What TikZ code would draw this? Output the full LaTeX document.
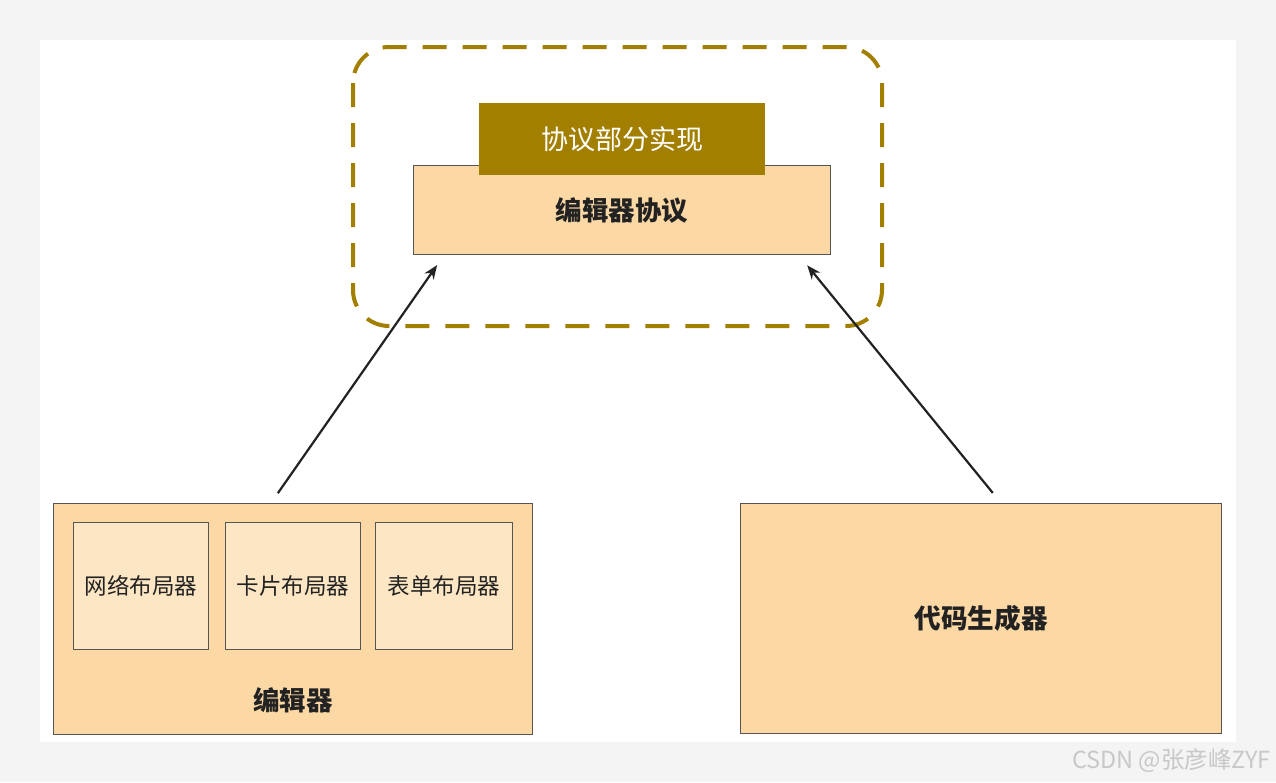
\documentclass[tikz,border=0pt]{standalone}
\usepackage{fontspec}
\newfontfamily\cjk{Noto Sans CJK SC}
\usetikzlibrary{calc,arrows.meta}
\definecolor{bggray}{HTML}{F4F4F4}
\definecolor{gold}{HTML}{A37F00}
\definecolor{peach}{HTML}{FCD8A5}
\definecolor{lightpeach}{HTML}{FCE6C3}
\definecolor{edge}{HTML}{555555}
\definecolor{ink}{HTML}{222222}
\definecolor{wm}{HTML}{C8C8C8}
\tikzset{
  box/.style={draw=edge, line width=1.2pt, fill=peach, inner sep=0pt},
  inner/.style={draw=edge, line width=1.2pt, fill=lightpeach, inner sep=0pt, font=\cjk\fontsize{22.5}{26}\selectfont, text=ink},
  arr/.style={draw=ink, line width=2.2pt, -{Stealth[length=14pt,width=11pt]}},
}
\begin{document}
\begin{tikzpicture}[x=1pt,y=-1pt]
\fill[bggray] (0,0) rectangle (1276,782);
\useasboundingbox (0,0) rectangle (1276,782);
\fill[white] (40,40) rectangle (1236,742);
% dashed group
\draw[gold, line width=4pt, dash pattern=on 24pt off 16pt, rounded corners=36pt] (353,47) rectangle (882,326);
% protocol box
\node[box, minimum width=417pt, minimum height=89pt, anchor=north west] (proto) at (413,165) {};
\node[font=\cjk\bfseries\fontsize{26.5}{30}\selectfont, text=ink] (protolabel) at ($(proto.center)+(0,0)$) {编辑器协议};
\node[fill=gold, minimum width=286pt, minimum height=72pt, anchor=north west, inner sep=0pt,
      text=white, font=\cjk\fontsize{27}{31}\selectfont] (impl) at (479,103) {协议部分实现};
% editor
\node[box, minimum width=479pt, minimum height=231pt, anchor=north west] (editor) at (53,503) {};
\node[inner, minimum width=135pt, minimum height=127pt, anchor=north west] (grid) at (73,522) {网络布局器};
\node[inner, minimum width=135pt, minimum height=127pt, anchor=north west] (card) at (225,522) {卡片布局器};
\node[inner, minimum width=137pt, minimum height=127pt, anchor=north west] (form) at (375,522) {表单布局器};
\node[font=\cjk\bfseries\fontsize{26.5}{30}\selectfont, text=ink] (editorlabel) at (293,700) {编辑器};
% code generator
\node[box, minimum width=481pt, minimum height=230pt, anchor=north west,
      font=\cjk\bfseries\fontsize{26.6}{31}\selectfont, text=ink] (gen) at (740,503) {代码生成器};
% arrows
\draw[arr, shorten <=12pt, shorten >=12pt] ($(editor.north west)+(218,0)$) -- ($(proto.south west)+(31,0)$);
\draw[arr, shorten <=13pt, shorten >=13pt] ($(gen.north west)+(261,0)$) -- ($(proto.south west)+(386,0)$);
% watermark
\node[anchor=east, text=wm, font=\cjk\fontsize{23.5}{27}\selectfont, inner sep=0pt] (wmark) at (1271,761) {CSDN @张彦峰ZYF};
\end{tikzpicture}
\end{document}
